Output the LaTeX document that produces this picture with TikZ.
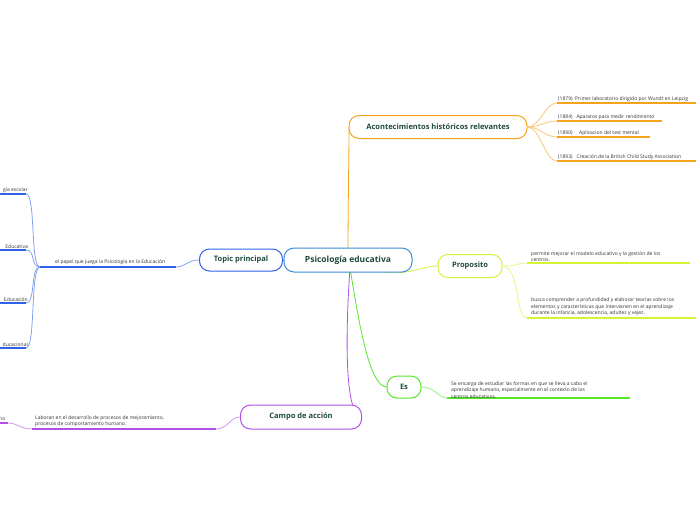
\documentclass[tikz,border=0pt]{standalone}
\usepackage{fontspec}
\setmainfont{Open Sans}
\definecolor{cBlue}{HTML}{3B8ED8}
\definecolor{cOrange}{HTML}{F7A21B}
\definecolor{cLime}{HTML}{D7F03A}
\definecolor{cGreen}{HTML}{55E62A}
\definecolor{cPurple}{HTML}{B150E8}
\definecolor{cRoyal}{HTML}{2F62E6}
\definecolor{cText}{HTML}{1E4A3C}
\begin{document}
\begin{tikzpicture}
[x=1pt,y=-1pt,
 topic/.style={draw=#1,line width=1pt,rounded corners=10pt,fill=white,text=cText,font=\bfseries\fontsize{7.5}{9}\selectfont,inner sep=0pt},
 leaf/.style={anchor=south west,font=\fontsize{5}{6.5}\selectfont,text=black!80,inner sep=1pt,align=left},
 link/.style={draw=#1,line width=0.8pt},
 uline/.style={draw=#1,line width=1.2pt}]
\useasboundingbox (0,0) rectangle (696,520);

% connectors from the centre
\draw[link=cOrange] (348,262) .. controls (348,200) and (349,160) .. (349,127);
\draw[link=cLime] (370,268) .. controls (400,280) and (420,266) .. (438,266);
\draw[link=cGreen] (350,268) .. controls (360,330) and (370,387) .. (387,387);
\draw[link=cPurple] (350,268) .. controls (345,340) and (345,417) .. (362,417);
\draw[link=cBlue] (284,260) -- (283,260);

% main nodes
\node[topic=cBlue,minimum width=128pt,minimum height=24pt,font=\bfseries\fontsize{8.5}{10}\selectfont] (psi) at (348,260) {Psicología educativa};
\node[topic=cOrange,minimum width=178pt,minimum height=23pt] (hist) at (438,127) {Acontecimientos históricos relevantes};
\node[topic=cLime,minimum width=64pt,minimum height=23pt] (prop) at (470,266) {Proposito};
\node[topic=cGreen,minimum width=34pt,minimum height=22pt] (es) at (404,387) {Es};
\node[topic=cPurple,minimum width=121pt,minimum height=24pt] (campo) at (301,417) {Campo de acción};
\node[topic=cRoyal,minimum width=83pt,minimum height=22pt] (top) at (241,260) {Topic principal};

% historical events
\coordinate (h1) at (557,103); \coordinate (h2) at (557,121);
\coordinate (h3) at (557,137); \coordinate (h4) at (557,161);
\foreach \c in {h1,h2,h3,h4}
  \draw[link=cOrange!60] (hist.east) .. controls (540,127) and (545,0|-\c) .. (\c);
\draw[uline=cOrange] (h1) -- (696,103);
\draw[uline=cOrange] (h2) -- (662,121);
\draw[uline=cOrange] (h3) -- (650,137);
\draw[uline=cOrange] (h4) -- (696,161);
\node[leaf] (t1) at (h1) {(1879)\ \ Primer laboratorio dirigido por Wundt en Leipzig};
\node[leaf] (t2) at (h2) {(1884)\ \ \ Aparatos para medir rendimiento};
\node[leaf] (t3) at (h3) {(1890)\ \ \ \ \ Aplicacion del test mental};
\node[leaf] (t4) at (h4) {(1893)\ \ \ Creación de la British Child Study Association};

% purpose
\coordinate (p1) at (527,263); \coordinate (p2) at (527,318);
\draw[link=cLime!60] (prop.east) .. controls (520,266) and (515,263) .. (p1);
\draw[link=cLime!60] (prop.east) .. controls (520,266) and (515,318) .. (p2);
\draw[uline=cLime] (p1) -- (690,263);
\draw[uline=cLime] (p2) -- (696,318);
\node[leaf] (pt1) at (530,263) {permite mejorar el modelo educativo y la gestión de los\\centros.};
\node[leaf] (pt2) at (530,317) {busca comprender a profundidad y elaborar teorías sobre los\\elementos y características que intervienen en el aprendizaje\\durante la infancia, adolescencia, adultez y vejez.};

% is
\coordinate (e1) at (447,398);
\draw[link=cGreen!60] (es.east) .. controls (435,387) and (438,398) .. (e1);
\draw[uline=cGreen] (e1) -- (630,398);
\node[leaf,anchor=north west] (et) at (450,380) {Se encarga de estudiar las formas en que se lleva a cabo el\\aprendizaje humano, especialmente en el contexto de los\\centros educativos.};

% field of action
\coordinate (c1) at (216,429); \coordinate (c2) at (8,423);
\draw[link=cPurple!60] (campo.west) .. controls (230,417) and (228,429) .. (c1);
\draw[uline=cPurple] (c1) -- (32,429);
\draw[link=cPurple!60] (32,429) .. controls (20,429) and (18,423) .. (c2);
\draw[uline=cPurple] (c2) -- (0,423);
\node[leaf] (ct) at (34,428) {Laboran en el desarrollo de procesos de mejoramiento,\\procesos de comportamiento humano.};
\node[leaf] (ct2) at (-2,422) {no};

% main topic
\coordinate (m1) at (176,267); \coordinate (m0) at (40,267);
\draw[link=cRoyal!60] (top.west) .. controls (188,260) and (185,267) .. (m1);
\draw[uline=cRoyal] (m1) -- (m0);
\node[leaf] (mt) at (54,266) {el papel que juega la Psicología en la Educación};
\foreach \yy/\txt in {194/{gía escolar},250/{ Educativa},303/{ Educación},348/{ducacional}} {
  \draw[link=cRoyal!60] (m0) .. controls (30,267) and (36,\yy) .. (26,\yy);
  \draw[uline=cRoyal] (26,\yy) -- (0,\yy);
  \node[leaf,anchor=south east] at (29,\yy) {\txt};
}
\end{tikzpicture}
\end{document}
